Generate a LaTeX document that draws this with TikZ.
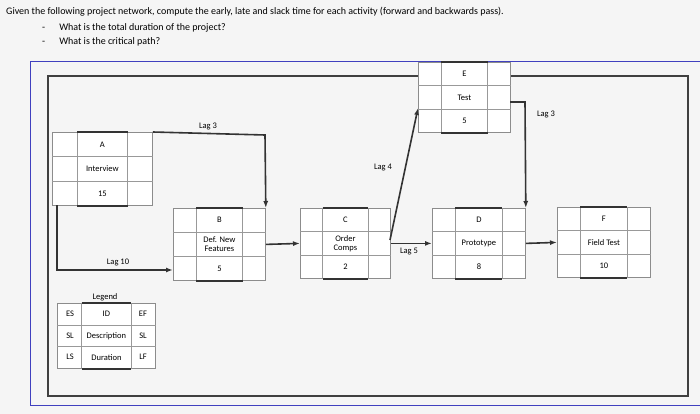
\documentclass[tikz,border=0pt]{standalone}
\usepackage{fontspec}
\setmainfont{Carlito}
\usetikzlibrary{arrows.meta,calc}
\tikzset{x=1pt,y=-1pt,
 conn/.style={line width=1.6pt,draw=black!80,-{Latex[length=7pt,width=5pt]}},
 lag/.style={font=\fontsize{8.5}{9}\selectfont},
 cell/.style={font=\fontsize{8.5}{9}\selectfont,align=center,inner sep=0pt}}
\newcommand\pertbox[8]{% name x1 y1 x2 y2 id desc dur
 \node[draw=black!45,fill=white,line width=0.8pt,minimum width=#4pt-#2pt,minimum height=#5pt-#3pt,inner sep=0pt,anchor=north west] (#1) at (#2,#3) {};
 \draw[black!40,line width=0.8pt] ($(#1.north west)!0.25!(#1.north east)$) -- ($(#1.south west)!0.25!(#1.south east)$);
 \draw[black!40,line width=0.8pt] ($(#1.north west)!0.75!(#1.north east)$) -- ($(#1.south west)!0.75!(#1.south east)$);
 \draw[black!40,line width=0.8pt] ($(#1.north west)!0.333!(#1.south west)$) -- ($(#1.north east)!0.333!(#1.south east)$);
 \draw[black!40,line width=0.8pt] ($(#1.north west)!0.667!(#1.south west)$) -- ($(#1.north east)!0.667!(#1.south east)$);
 \draw[black!80,line width=1.5pt] ($(#1.north west)!0.25!(#1.north east)$) -- ($(#1.north west)!0.75!(#1.north east)$);
 \draw[black!80,line width=1.5pt] ($(#1.south west)!0.25!(#1.south east)$) -- ($(#1.south west)!0.75!(#1.south east)$);
 \node[cell] at ($(#1.north)!0.1667!(#1.south)$) {#6};
 \node[cell] at (#1.center) {#7};
 \node[cell] at ($(#1.north)!0.8333!(#1.south)$) {#8};
}
\begin{document}
\begin{tikzpicture}
\useasboundingbox (0,0) rectangle (700,414);
\fill[gray!8] (0,0) rectangle (700,414);
\node[anchor=west,font=\fontsize{10}{12}\selectfont,inner sep=0pt] (t) at (6,12) {Given the following project network, compute the early, late and slack time for each activity (forward and backwards pass).};
\node[anchor=west,font=\fontsize{10}{12}\selectfont,inner sep=0pt] (b1) at (42,28) {-\hspace{14pt}What is the total duration of the project?};
\node[anchor=west,font=\fontsize{10}{12}\selectfont,inner sep=0pt] (b2) at (42,42) {-\hspace{14pt}What is the critical path?};
\draw[blue!50!gray,line width=1pt] (30,62) rectangle (700,405);
\draw[black!75,line width=1.3pt] (48,76) rectangle (688,396);
\pertbox{A}{52}{132}{152}{205}{A}{Interview}{15}
\pertbox{B}{173}{208}{265}{280}{B}{Def. New\\Features}{5}
\pertbox{C}{300}{208}{390}{278}{C}{Order\\Comps}{2}
\pertbox{D}{432}{208}{525}{278}{D}{Prototype}{8}
\pertbox{E}{418}{62}{510}{132}{E}{Test}{5}
\pertbox{F}{557}{207}{650}{277}{F}{Field Test}{10}
\pertbox{L}{57}{303}{155}{368}{ID}{Description}{Duration}
\node[cell] at (70,314) {ES}; \node[cell] at (143,314) {EF};
\node[cell] at (70,336) {SL}; \node[cell] at (143,336) {SL};
\node[cell] at (70,357) {LS}; \node[cell] at (143,357) {LF};
\node[lag] (lg) at (105,297) {Legend};
\coordinate (a1) at (265,135);
\draw[conn] (A.north east) -- (a1) -- (B.north east);
\node[lag] at (208,126) {Lag 3};
\coordinate (a2) at (57,270);
\draw[conn] (57,205) -- (a2) -- (173,270);
\node[lag] at (118,262) {Lag 10};
\draw[conn] (B.east) -- (C.west);
\draw[conn] (C.east) -- (D.west);
\node[lag] at (409,252) {Lag 5};
\draw[conn] (390,240) -- (418,108);
\node[lag] at (383,168) {Lag 4};
\coordinate (e1) at (525,102);
\draw[conn] (510,102) -- (e1) -- (D.north east);
\node[lag] at (546,114) {Lag 3};
\draw[conn] (D.east) -- (F.west);
\end{tikzpicture}
\end{document}
